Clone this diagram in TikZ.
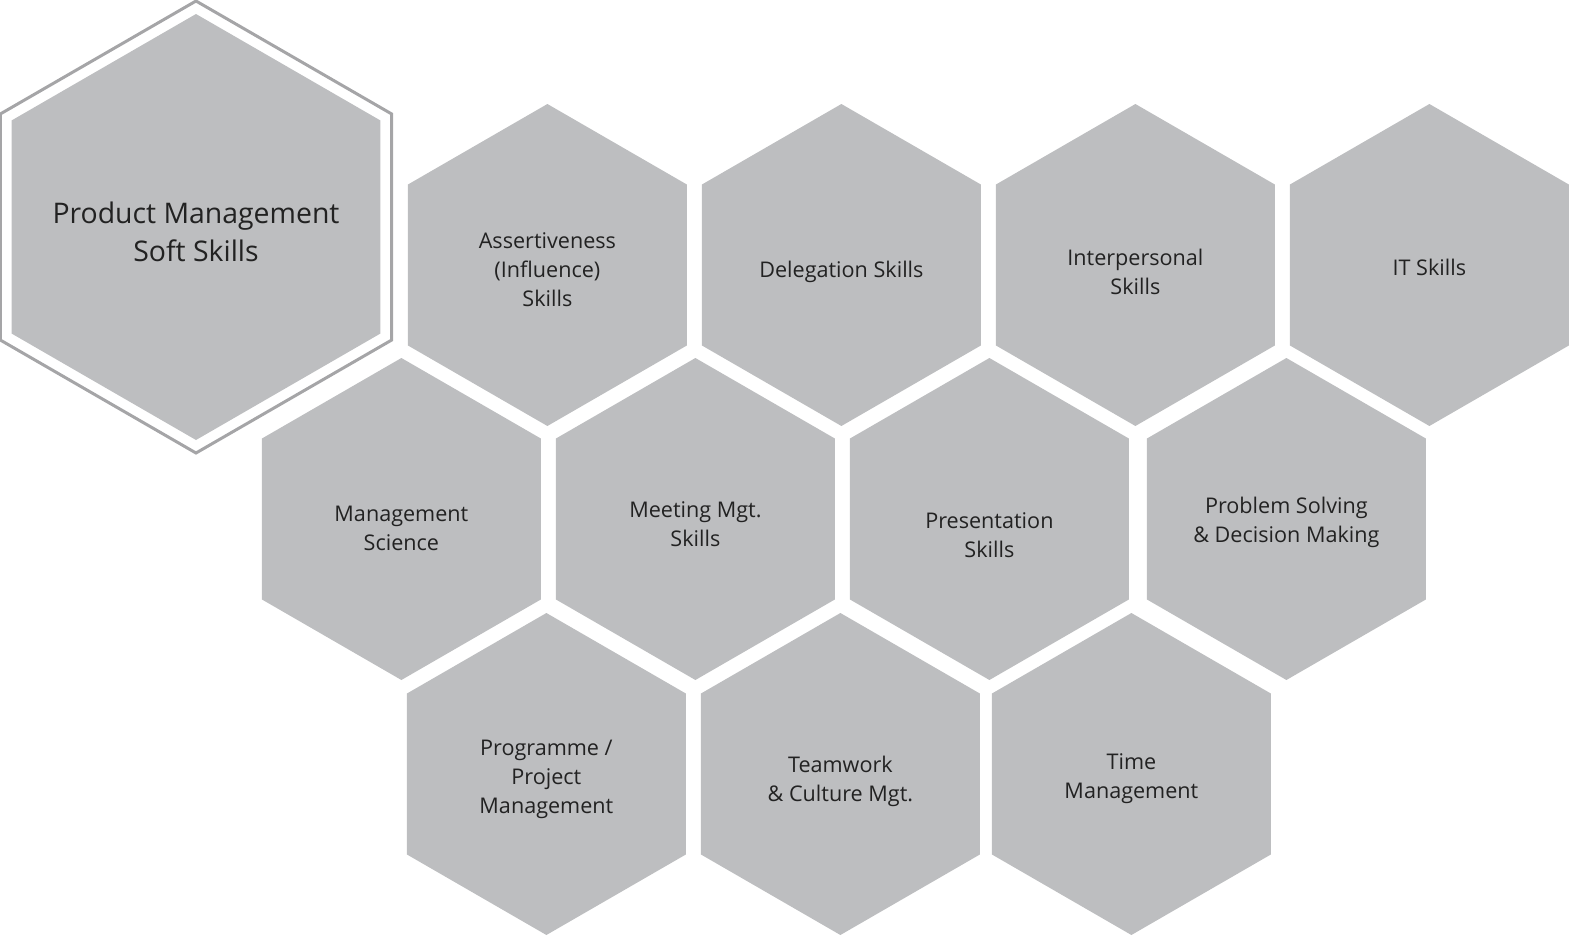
\documentclass[tikz,border=0pt]{standalone}
\usepackage{fontspec}
\setmainfont{Open Sans}
\usetikzlibrary{shapes.geometric,positioning}

\definecolor{hexfill}{HTML}{BDBEC0}
\definecolor{hexline}{HTML}{A5A5A7}
\definecolor{hextext}{HTML}{222222}

\tikzset{
  hexcell/.style={regular polygon, regular polygon sides=6, shape border rotate=30,
    minimum size=161pt, inner sep=0pt, fill=hexfill},
  hexlabel/.style={text=hextext, align=center, inner sep=0pt, yshift=-2.5pt,
    font=\fontsize{10.8}{14.5}\selectfont},
  biglabel/.style={hexlabel, font=\fontsize{14.2}{19}\selectfont},
  hexrim/.style={regular polygon, regular polygon sides=6, shape border rotate=30,
    minimum size=226pt, inner sep=0pt, draw=hexline, line width=1.5pt}
}

\begin{document}
\begin{tikzpicture}[node distance=147pt,on grid]
\useasboundingbox (0,0) rectangle (785pt,-468.5pt);
\node[hexrim] (rim) at (98pt,-113.5pt) {};
\node[hexcell, minimum size=213pt, label={[biglabel]center:Product Management\\Soft Skills}] (pm) at (rim.center) {};
% first row
\node[hexcell, label={[hexlabel]center:Assertiveness\\(Influence)\\Skills}] (assert) at (273.7pt,-132.5pt) {};
\node[hexcell, label={[hexlabel,yshift=-1pt]center:Delegation Skills}] (deleg) [right=of assert] {};
\node[hexcell, label={[hexlabel,yshift=-1pt]center:Interpersonal\\Skills}] (inter) [right=of deleg] {};
\node[hexcell, label={[hexlabel,yshift=1.5pt]center:IT Skills}] (it) [right=of inter] {};
% second row
\node[hexcell, label={[hexlabel,yshift=-2pt]center:Management\\Science}] (mgmt) [below left=127pt and 73pt of assert] {};
\node[hexcell, label={[hexlabel]center:Meeting Mgt.\\Skills}] (meet) [right=of mgmt] {};
\node[hexcell, label={[hexlabel,yshift=-5.5pt]center:Presentation\\Skills}] (pres) [right=of meet] {};
\node[hexcell, label={[hexlabel,yshift=1pt]center:Problem Solving\\\& Decision Making}] (prob) [right=148.5pt of pres] {};
% third row
\node[hexcell, label={[hexlabel]center:Programme /\\Project\\Management}] (prog) [below right=127.5pt and 72.5pt of mgmt] {};
\node[hexcell, label={[hexlabel,yshift=-1pt]center:Teamwork\\\& Culture Mgt.}] (team) [right=of prog] {};
\node[hexcell, label={[hexlabel]center:Time\\Management}] (time) [right=145.5pt of team] {};
\end{tikzpicture}
\end{document}
